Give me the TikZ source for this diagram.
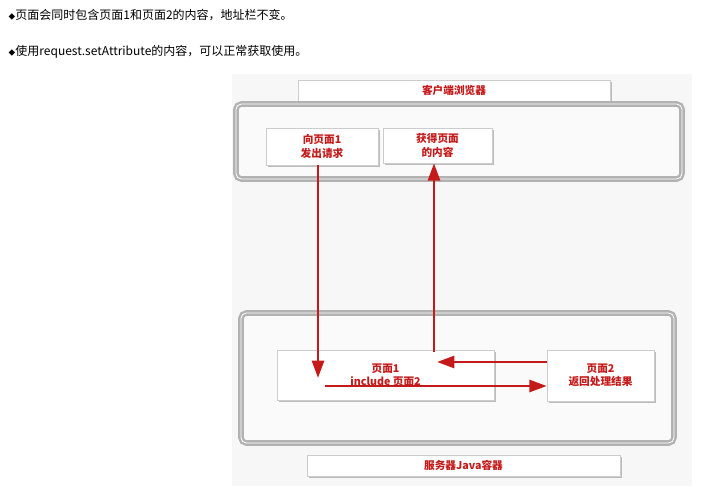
\documentclass[tikz,border=0pt]{standalone}
\usepackage{fontspec}
\setmainfont{Noto Sans CJK SC}
\usetikzlibrary{arrows.meta,shadows}
\definecolor{rd}{HTML}{C41A1A}
\begin{document}
\begin{tikzpicture}[x=0.75pt,y=-0.75pt,
 box/.style={draw=black!20,fill=white,drop shadow={shadow xshift=1.5pt,shadow yshift=-1.5pt,opacity=.5},text=rd,font=\bfseries\fontsize{8}{10}\selectfont,align=center,inner sep=0pt},
 frame/.style={draw=black!30,line width=1.8pt,rounded corners=4pt,fill=white!98!black,double=white,double distance=0.6pt},
 arr/.style={draw=rd,line width=2pt,-{Triangle[length=13pt,width=9pt]}},
 txt/.style={anchor=west,font=\fontsize{9}{10}\selectfont}]
\useasboundingbox (0,0) rectangle (720,493);
\node[txt] (t1) at (4,15) {{\tiny◆}页面会同时包含页面1和页面2的内容，地址栏不变。};
\node[txt] (t2) at (4,52) {{\tiny◆}使用request.setAttribute的内容，可以正常获取使用。};
\fill[black!3] (232,74) rectangle (692,486);
\node[box,minimum width=312pt*0.75,minimum height=21*0.75pt] (cl) at (454,90.5) {客户端浏览器};
\draw[frame] (236,104) rectangle (682,179);
\node[box,minimum width=112*0.75pt,minimum height=37*0.75pt] (a) at (322,146.5) {向页面1\\发出请求};
\node[box,minimum width=109*0.75pt,minimum height=35*0.75pt] (b) at (437.5,145.5) {获得页面\\的内容};
\draw[frame] (241,313) rectangle (674,443);
\node[box,minimum width=217*0.75pt,minimum height=50*0.75pt] (p1) at (385.5,375) {页面1\\include 页面2};
\node[box,minimum width=107*0.75pt,minimum height=51*0.75pt] (p2) at (600.5,375.5) {页面2\\返回处理结果};
\node[box,minimum width=313*0.75pt,minimum height=21*0.75pt] (sv) at (463.5,465.5) {服务器Java容器};
\coordinate (d1) at (318,378);
\coordinate (u0) at (434,352);
\coordinate (l1) at (437,362);
\coordinate (r0) at (325,386);
\draw[arr] (a.south -| d1) -- (d1);
\draw[arr] (u0) -- (b.south -| u0);
\draw[arr] (p2.west |- l1) -- (l1);
\draw[arr] (r0) -- (p2.west |- r0);
\end{tikzpicture}
\end{document}
